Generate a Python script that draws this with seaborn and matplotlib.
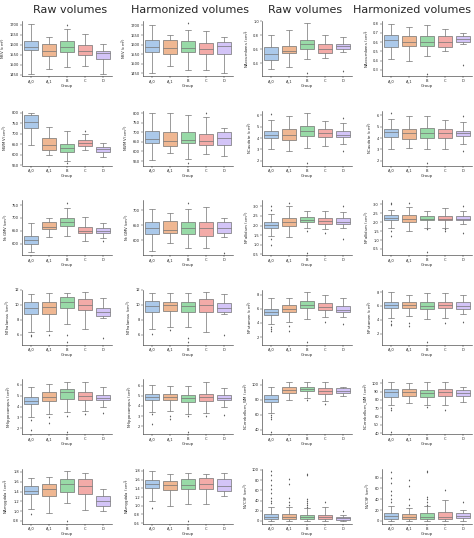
import numpy as np
import pandas as pd
import matplotlib.pyplot as plt
import seaborn as sns

groups = ["A_0", "A_1", "B", "C", "D"]

# box stats per group: [whisker low, q1, median, q3, whisker high]
raw_NBV = [[1455, 1575, 1590, 1620, 1705], [1480, 1545, 1570, 1605, 1640], [1490, 1565, 1590, 1620, 1680],
           [1495, 1550, 1570, 1600, 1655], [1455, 1530, 1560, 1570, 1605]]
raw_NBV_out = [[], [], [1700], [], []]
harm_NBV = [[1450, 1560, 1590, 1625, 1700], [1490, 1550, 1580, 1625, 1650], [1470, 1560, 1580, 1620, 1675],
            [1470, 1550, 1575, 1610, 1670], [1455, 1550, 1595, 1615, 1640]]
harm_NBV_out = [[], [], [1710], [], []]

raw_NWMV = [[645, 730, 755, 790, 800], [600, 620, 645, 680, 735], [570, 615, 630, 650, 715],
            [620, 640, 655, 670, 700], [590, 615, 625, 635, 655]]
raw_NWMV_out = [[], [], [560], [715], []]
harm_NWMV = [[555, 645, 665, 705, 800], [590, 630, 655, 700, 800], [560, 645, 660, 700, 790],
             [585, 635, 655, 690, 780], [575, 635, 670, 700, 720]]
harm_NWMV_out = [[], [], [540], [800], []]

raw_NcGMV = [[565, 600, 615, 630, 680], [625, 655, 665, 685, 700], [630, 670, 685, 700, 740],
             [610, 640, 650, 665, 705], [620, 640, 650, 660, 680]]
raw_NcGMV_out = [[], [], [760], [], [610]]
harm_NcGMV = [[565, 620, 640, 660, 705], [590, 625, 635, 665, 690], [575, 620, 640, 660, 705],
              [575, 615, 640, 660, 710], [610, 625, 640, 660, 675]]
harm_NcGMV_out = [[], [], [725], [], [560]]

raw_NThal = [[6.4, 8.8, 9.6, 10.4, 11.4], [6.5, 8.7, 9.7, 10.4, 11.5], [7.4, 9.6, 10.3, 11.0, 11.6],
             [6.8, 9.3, 9.9, 10.8, 11.7], [8.2, 8.5, 9.0, 9.6, 10.9]]
raw_NThal_out = [[6.0, 5.8], [6.0], [6.0, 5.0], [], [5.6]]
harm_NThal = [[6.7, 9.0, 9.8, 10.5, 11.5], [7.0, 9.1, 9.9, 10.4, 11.5], [7.0, 9.0, 9.8, 10.4, 11.5],
              [6.4, 9.0, 9.9, 10.7, 11.7], [8.8, 9.0, 9.5, 10.2, 11.4]]
harm_NThal_out = [[6.1], [6.6], [5.6, 5.0], [], [6.0]]

raw_NHipp = [[3.0, 4.2, 4.5, 4.9, 5.8], [3.3, 4.5, 4.9, 5.3, 6.1], [3.5, 4.7, 5.3, 5.6, 6.3],
             [3.6, 4.6, 5.0, 5.3, 6.3], [4.0, 4.6, 4.8, 5.1, 5.8]]
raw_NHipp_out = [[2.8, 1.8], [3.0, 2.5], [3.1, 1.7], [3.3], [3.4]]
harm_NHipp = [[3.4, 4.6, 4.9, 5.2, 6.1], [3.5, 4.6, 4.9, 5.2, 6.0], [3.2, 4.4, 4.8, 5.1, 6.0],
              [3.3, 4.5, 4.9, 5.2, 6.4], [3.9, 4.6, 4.8, 5.1, 5.8]]
harm_NHipp_out = [[3.2, 2.2], [3.0, 2.7], [3.0, 1.5], [3.0], [3.1]]

raw_NAmyg = [[1.05, 1.35, 1.42, 1.52, 1.68], [0.97, 1.30, 1.45, 1.55, 1.70], [1.17, 1.40, 1.55, 1.65, 1.82],
             [1.02, 1.35, 1.52, 1.65, 1.78], [1.00, 1.10, 1.20, 1.30, 1.45]]
raw_NAmyg_out = [[0.95], [], [0.8], [], []]
harm_NAmyg = [[1.12, 1.42, 1.50, 1.60, 1.80], [1.00, 1.37, 1.48, 1.58, 1.72], [1.05, 1.38, 1.48, 1.62, 1.75],
              [1.03, 1.38, 1.50, 1.63, 1.73], [1.22, 1.33, 1.45, 1.62, 1.75]]
harm_NAmyg_out = [[0.95], [], [0.65], [], []]

raw_NAcc = [[0.32, 0.44, 0.53, 0.63, 0.80], [0.35, 0.54, 0.58, 0.65, 0.88], [0.46, 0.60, 0.67, 0.73, 0.97],
            [0.47, 0.55, 0.60, 0.67, 0.81], [0.56, 0.60, 0.64, 0.68, 0.78]]
raw_NAcc_out = [[], [], [0.25], [], [0.29]]
harm_NAcc = [[0.42, 0.55, 0.62, 0.68, 0.80], [0.40, 0.56, 0.60, 0.67, 0.76], [0.45, 0.56, 0.60, 0.67, 0.78],
             [0.50, 0.55, 0.60, 0.67, 0.74], [0.58, 0.60, 0.63, 0.67, 0.70]]
harm_NAcc_out = [[], [], [0.26], [], [0.35]]

raw_NCaud = [[3.0, 4.0, 4.3, 4.6, 5.6], [2.9, 3.8, 4.3, 4.8, 5.9], [3.1, 4.2, 4.6, 5.1, 6.2],
             [3.3, 4.1, 4.4, 4.8, 5.5], [3.5, 4.1, 4.3, 4.6, 5.3]]
raw_NCaud_out = [[6.1], [], [1.8], [], [5.8, 2.9]]
harm_NCaud = [[3.0, 4.1, 4.5, 4.8, 5.7], [3.1, 3.9, 4.4, 4.8, 5.9], [3.0, 4.0, 4.4, 4.9, 5.9],
              [3.0, 4.0, 4.4, 4.8, 5.6], [3.5, 4.2, 4.4, 4.6, 5.4]]
harm_NCaud_out = [[6.2], [], [1.8], [], [5.9, 2.9]]

raw_NPall = [[1.45, 1.90, 2.05, 2.20, 2.60], [1.40, 2.00, 2.20, 2.40, 3.00], [1.90, 2.20, 2.30, 2.45, 2.75],
             [1.80, 2.10, 2.25, 2.40, 2.75], [1.90, 2.10, 2.20, 2.40, 2.70]]
raw_NPall_out = [[3.0, 2.8, 1.3, 1.0], [3.2], [1.7, 0.6], [1.6], [3.0, 1.3]]
harm_NPall = [[1.70, 2.10, 2.25, 2.40, 2.70], [1.50, 2.00, 2.20, 2.40, 2.85], [1.70, 2.10, 2.20, 2.35, 2.60],
              [1.70, 2.10, 2.20, 2.35, 2.80], [1.90, 2.10, 2.20, 2.35, 2.60]]
harm_NPall_out = [[3.1, 3.0, 1.5, 1.2], [3.1], [1.6, 0.3], [1.5, 1.6], [2.9, 1.4]]

raw_NPut = [[3.8, 5.2, 5.6, 6.0, 7.5], [4.2, 5.6, 6.0, 6.5, 7.6], [4.6, 6.1, 6.6, 7.1, 8.4],
            [4.8, 5.8, 6.3, 6.9, 8.0], [4.9, 5.5, 5.8, 6.4, 7.5]]
raw_NPut_out = [[3.2, 2.8, 3.5], [3.6, 2.8], [1.3], [4.1], [3.8]]
harm_NPut = [[4.2, 5.7, 6.2, 6.6, 8.0], [4.5, 5.7, 6.2, 6.5, 7.5], [4.1, 5.6, 6.0, 6.5, 7.9],
             [4.3, 5.7, 6.1, 6.6, 7.9], [4.9, 5.6, 6.0, 6.5, 7.6]]
harm_NPut_out = [[3.8, 3.4, 3.2], [3.6, 3.1], [0.8], [3.6], [3.7]]

raw_NCbWM = [[63, 77, 81, 86, 97], [80, 89, 93, 97, 103], [82, 91, 94, 97, 104],
             [78, 88, 91, 96, 103], [85, 89, 92, 95, 97]]
raw_NCbWM_out = [[60, 57, 55, 38], [], [79], [74], []]
harm_NCbWM = [[74, 84, 89, 93, 102], [76, 85, 89, 93, 100], [74, 84, 88, 92, 101],
              [74, 85, 89, 93, 102], [78, 85, 88, 92, 96]]
harm_NCbWM_out = [[70, 68, 42], [], [71], [68], []]

raw_NVCSF = [[0, 4, 8, 14, 28], [0, 4, 8, 13, 27], [0, 3, 7, 12, 26], [0, 3, 7, 12, 27], [0, 2, 5, 8, 12]]
raw_NVCSF_out = [[35, 40, 45, 55, 62, 70, 80, 90, 98], [32, 38, 45, 72, 82], [28, 32, 36, 40, 44, 90, 92], [38], [20]]
harm_NVCSF = [[0, 4, 9, 14, 28], [0, 4, 8, 13, 24], [0, 4, 8, 14, 27], [0, 3, 8, 17, 38], [0, 5, 9, 14, 21]]
harm_NVCSF_out = [[35, 40, 48, 55, 70, 80, 90], [30, 40, 65, 75], [30, 35, 40, 44, 90, 92], [57], [35]]

left_panels = [
    ("NBV (cm$^3$)", raw_NBV, raw_NBV_out, harm_NBV, harm_NBV_out),
    ("NWMV (cm$^3$)", raw_NWMV, raw_NWMV_out, harm_NWMV, harm_NWMV_out),
    ("NcGMV (cm$^3$)", raw_NcGMV, raw_NcGMV_out, harm_NcGMV, harm_NcGMV_out),
    ("NThalamus (cm$^3$)", raw_NThal, raw_NThal_out, harm_NThal, harm_NThal_out),
    ("NHippocampus (cm$^3$)", raw_NHipp, raw_NHipp_out, harm_NHipp, harm_NHipp_out),
    ("NAmygdala (cm$^3$)", raw_NAmyg, raw_NAmyg_out, harm_NAmyg, harm_NAmyg_out),
]
right_panels = [
    ("NAccumbens (cm$^3$)", raw_NAcc, raw_NAcc_out, harm_NAcc, harm_NAcc_out),
    ("NCaudate (cm$^3$)", raw_NCaud, raw_NCaud_out, harm_NCaud, harm_NCaud_out),
    ("NPallidum (cm$^3$)", raw_NPall, raw_NPall_out, harm_NPall, harm_NPall_out),
    ("NPutamen (cm$^3$)", raw_NPut, raw_NPut_out, harm_NPut, harm_NPut_out),
    ("NCerebellum_WM (cm$^3$)", raw_NCbWM, raw_NCbWM_out, harm_NCbWM, harm_NCbWM_out),
    ("NVCSF (cm$^3$)", raw_NVCSF, raw_NVCSF_out, harm_NVCSF, harm_NVCSF_out),
]

sns.set_style("ticks")
palette = sns.color_palette("pastel", 5)
W, H = 474, 538
fig = plt.figure(figsize=(4.74, 5.38), dpi=100)


def draw(ax, ylabel, stats, outliers):
    # five values per group give exactly these quartiles (linear interpolation)
    box = pd.DataFrame([(g, v) for g, s in zip(groups, stats) for v in s], columns=["Group", "v"])
    sns.boxplot(data=box, x="Group", y="v", hue="Group", palette=palette, ax=ax, whis=np.inf,
                showfliers=False, linewidth=0.5, width=0.75, linecolor="0.45", legend=False)
    out = pd.DataFrame([(g, v) for g, o in zip(groups, outliers) for v in o], columns=["Group", "v"])
    if len(out):
        sns.stripplot(data=out, x="Group", y="v", order=groups, color="0.35", marker="d", size=1.2,
                      jitter=False, ax=ax)
    ax.set_ylabel(ylabel, fontsize=2.8, labelpad=1)
    ax.set_xlabel("Group", fontsize=2.8, labelpad=1)
    ax.tick_params(labelsize=2.6, length=1.2, width=0.3, pad=1)
    for s in ax.spines.values():
        s.set_linewidth(0.4)
    sns.despine(ax=ax)


col_lefts = [22, 143, 262, 382]
aw, ah = 90, 55
for i in range(6):
    top = 21 + 89.5 * i
    for c, panels in ((0, left_panels), (2, right_panels)):
        name, raw, raw_o, harm, harm_o = panels[i]
        for k, (st, ot) in enumerate(((raw, raw_o), (harm, harm_o))):
            ax = fig.add_axes([col_lefts[c + k] / W, 1 - (top + ah) / H, aw / W, ah / H])
            draw(ax, name, st, ot)

for x, t in zip([70, 190, 305, 412], ["Raw volumes", "Harmonized volumes", "Raw volumes", "Harmonized volumes"]):
    fig.text(x / W, 1 - 10 / H, t, ha="center", va="center", fontsize=8)

fig.savefig("out.png", dpi=100)
